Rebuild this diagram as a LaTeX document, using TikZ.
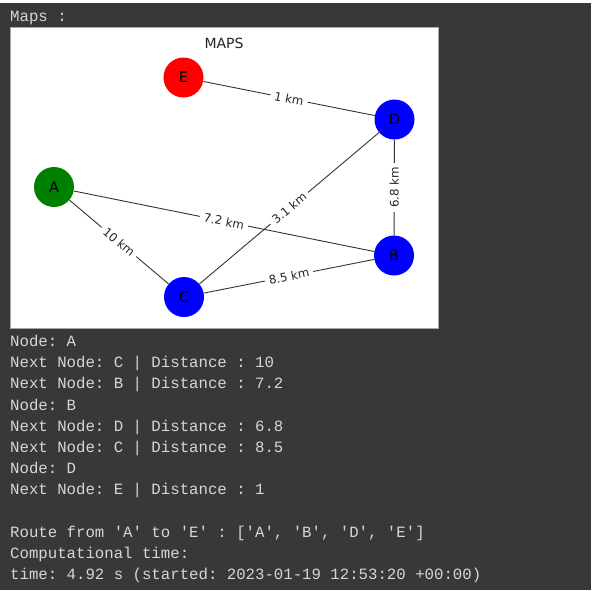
\documentclass[tikz,border=0pt]{standalone}
\usepackage{fontspec}
\usetikzlibrary{positioning}
\newfontfamily\plotfont{DejaVu Sans}
\newfontfamily\consolefont{Liberation Mono}
\newcommand\squote{\textquotesingle}
\definecolor{cellbg}{RGB}{56,56,56}
\definecolor{celltext}{RGB}{214,214,214}
\definecolor{citygreen}{RGB}{0,128,0}
\frenchspacing

\begin{document}
\begin{tikzpicture}[x=1pt, y=-1pt,
  city/.style={circle, minimum size=40pt, inner sep=0pt, font=\plotfont\fontsize{14.5}{16}\selectfont},
  road/.style={draw=black!80, line width=0.9pt},
  dist/.style={midway, sloped, fill=white, inner xsep=4pt, inner ysep=1pt, text=black!85, font=\plotfont\fontsize{11.8}{13}\selectfont},
  outline/.style={anchor=base west, inner sep=0pt, text=celltext, font=\consolefont\fontsize{15.7}{18}\selectfont}]
\useasboundingbox (0,0) rectangle (594,590);
\fill[white] (0,0) rectangle (594,590);
\fill[cellbg] (0,3) rectangle (591,590);
% plot area
\draw[fill=white, draw=gray!70] (10,27) rectangle (438,328);
\node[font=\plotfont\fontsize{14}{16}\selectfont, text=black!85] (title) at (224,43) {MAPS};
\node[city, fill=citygreen] (A) at (54,187) {A};
\node[city, fill=blue] (B) at (394,255.5) {B};
\node[city, fill=blue] (C) at (184,297) {C};
\node[city, fill=blue] (D) at (394.5,119.5) {D};
\node[city, fill=red] (E) at (183.5,77.5) {E};
\draw[road] (A) -- node[dist] {10 km} (C);
\draw[road] (A) -- node[dist] {7.2 km} (B);
\draw[road] (D) -- node[dist] {6.8 km} (B);
\draw[road] (C) -- node[dist] {8.5 km} (B);
\draw[road] (C) -- node[dist] {3.1 km} (D);
\draw[road] (E) -- node[dist] {1 km} (D);
% console output
\node[outline] (head) at (10,21) {Maps :};
\foreach \txt [count=\i] in {Node: A, Next Node: C | Distance : 10, Next Node: B | Distance : 7.2,
    Node: B, Next Node: D | Distance : 6.8, Next Node: C | Distance : 8.5,
    Node: D, Next Node: E | Distance : 1, {},
    {Route from \squote A\squote{} to \squote E\squote{} : [\squote A\squote, \squote B\squote, \squote D\squote, \squote E\squote]},
    Computational time:, time: 4.92 s (started: 2023-01-19 12:53:20 +00:00)}
  \node[outline] (out\i) at (10,325.3+21.2*\i) {\txt};
\end{tikzpicture}
\end{document}
